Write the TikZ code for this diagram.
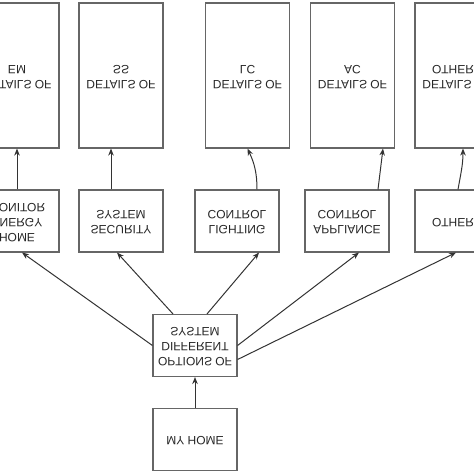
\documentclass[tikz,border=0pt]{standalone}
\usepackage{fontspec}
\setmainfont{Liberation Sans}
\usepackage{graphicx}
\usetikzlibrary{arrows.meta}
\newcommand{\flipped}[1]{\scalebox{1}[-1]{\begin{tabular}{@{}c@{}}#1\end{tabular}}}

\begin{document}
\begin{tikzpicture}[
  x=1pt,
  y=-1pt,
  box/.style={draw=black!60, line width=1.1pt, minimum width=84pt, inner sep=0pt, font=\fontsize{12}{15}\selectfont, text=black!85},
  detail/.style={box, minimum height=145pt},
  option/.style={box, minimum height=62pt},
  link/.style={-{Stealth[length=7pt, width=5.5pt]}, draw=black!80, line width=1pt}
]
  % Frame of the picture (boxes run over the left and right edges)
  \useasboundingbox (0,0) rectangle (474,474);
  \clip (0,0) rectangle (474,474);
  % Top row: details boxes
  \foreach \n/\x/\t in {dem/17/EM, dss/121/SS, dlc/247.5/LC, dac/352.5/AC, dot/457/OTHERS} {
    \node[detail] (\n) at (\x, 75.5) {\flipped{DETAILS OF\\\t}};
  }
  % Middle row: the systems
  \node[option] (em) at (17, 221)  {\flipped{HOME\\ENERGY\\MONITOR}};
  \node[option] (ss) at (121, 221) {\flipped{SECURITY\\SYSTEM}};
  \node[option] (lc) at (237, 221) {\flipped{LIGHTING\\CONTROL}};
  \node[option] (ac) at (347, 221) {\flipped{APPLIANCE\\CONTROL}};
  \node[option] (ot) at (457, 221) {\flipped{OTHERS}};
  % Bottom: options and home
  \node[option] (opts) at (195, 345.5) {\flipped{OPTIONS OF\\DIFFERENT\\SYSTEM}};
  \node[option] (home) at (195, 439.5) {\flipped{MY HOME}};
  % Connectors
  \draw[link] (home) -- (opts);
  \draw[link] (opts.west) -- ([xshift=5pt]em.south);
  \draw[link] ([xshift=-22pt]opts.north) -- ([xshift=-4pt]ss.south);
  \draw[link] ([xshift=12pt]opts.north) -- ([xshift=22pt]lc.south);
  \draw[link] (opts.east) -- ([xshift=12pt]ac.south);
  \draw[link] ([yshift=-14pt]opts.east) -- ([xshift=-1pt]ot.south);
  % Systems to their details
  \draw[link] (em.north) -- (dem.south);
  \draw[link] ([xshift=-10pt]ss.north) -- ([xshift=-10pt]dss.south);
  \draw[link] ([xshift=20pt]lc.north) to[out=90, in=-65] (dlc.south);
  \draw[link] ([xshift=31pt]ac.north) -- ([xshift=30.5pt]dac.south);
  \draw[link] ([xshift=1pt]ot.north) to[out=80, in=-90] ([xshift=6pt]dot.south);
\end{tikzpicture}
\end{document}
